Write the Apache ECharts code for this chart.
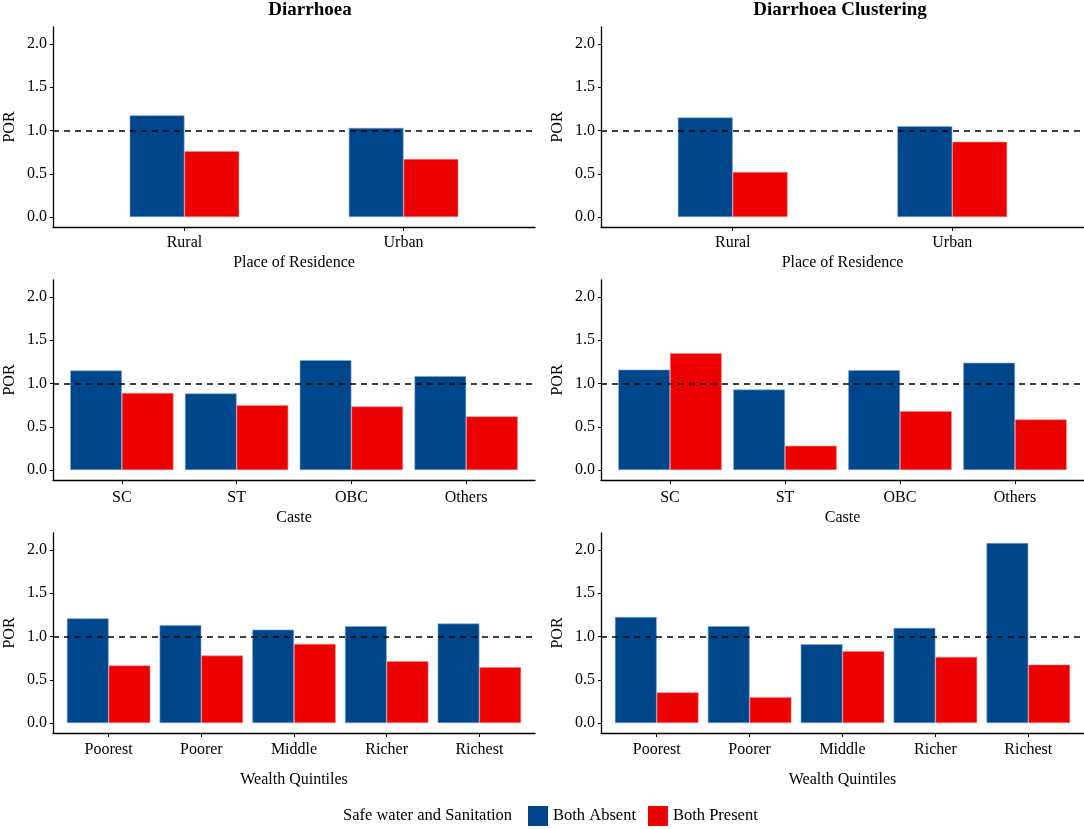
<!DOCTYPE html>
<html>
<head>
<meta charset="utf-8">
<script src="https://cdn.jsdelivr.net/npm/echarts@6/dist/echarts.min.js"></script>
<style>
html,body{margin:0;padding:0;background:#fff;}
#chart{width:1084px;height:829px;}
</style>
</head>
<body>
<div id="chart"></div>
<script>
// ---- Data ----
const residenceCats = ['Rural', 'Urban'];
const casteCats = ['SC', 'ST', 'OBC', 'Others'];
const wealthCats = ['Poorest', 'Poorer', 'Middle', 'Richer', 'Richest'];

const diarResidenceAbsent = [1.175, 1.03];
const diarResidencePresent = [0.76, 0.67];
const clusResidenceAbsent = [1.15, 1.05];
const clusResidencePresent = [0.52, 0.87];

const diarCasteAbsent = [1.15, 0.885, 1.27, 1.085];
const diarCastePresent = [0.89, 0.75, 0.735, 0.62];
const clusCasteAbsent = [1.16, 0.93, 1.155, 1.24];
const clusCastePresent = [1.35, 0.28, 0.68, 0.585];

const diarWealthAbsent = [1.21, 1.13, 1.08, 1.12, 1.15];
const diarWealthPresent = [0.665, 0.78, 0.915, 0.715, 0.645];
const clusWealthAbsent = [1.225, 1.12, 0.91, 1.10, 2.08];
const clusWealthPresent = [0.355, 0.30, 0.83, 0.765, 0.675];

const yTicks = [0, 0.5, 1.0, 1.5, 2.0];
const panelTitles = ['Diarrhoea', 'Diarrhoea Clustering'];
const axisNames = ['Place of Residence', 'Caste', 'Wealth Quintiles'];
const seriesNames = ['Both Absent', 'Both Present'];
const legendTitle = 'Safe water and Sanitation';
const refLine = 1.0;

// ---- Layout ----
const FONT = '"Liberation Serif", "DejaVu Serif", serif';
const BLUE = '#00468B', RED = '#ED0000';
const panels = [
  {cats: residenceCats, a: diarResidenceAbsent, p: diarResidencePresent, row: 0, col: 0},
  {cats: residenceCats, a: clusResidenceAbsent, p: clusResidencePresent, row: 0, col: 1},
  {cats: casteCats, a: diarCasteAbsent, p: diarCastePresent, row: 1, col: 0},
  {cats: casteCats, a: clusCasteAbsent, p: clusCastePresent, row: 1, col: 1},
  {cats: wealthCats, a: diarWealthAbsent, p: diarWealthPresent, row: 2, col: 0},
  {cats: wealthCats, a: clusWealthAbsent, p: clusWealthPresent, row: 2, col: 1}
];
const rowTops = [27, 280, 533];
const nameGaps = [28, 30, 39];
const labelMargins = [8, 10, 9];
const colLeft = [53, 601];
const colWidth = [482, 483];

const grids = [], xAxes = [], yAxes = [], series = [];
panels.forEach((pn, i) => {
  const n = pn.cats.length;
  grids.push({left: colLeft[pn.col], top: rowTops[pn.row], width: colWidth[pn.col], height: 200, containLabel: false});
  const ticks = pn.cats.map((c, k) => k + 1);
  xAxes.push({
    type: 'value', gridIndex: i, min: 0.4, max: n + 0.6,
    name: axisNames[pn.row], nameLocation: 'middle', nameGap: nameGaps[pn.row],
    nameTextStyle: {fontFamily: FONT, fontSize: 16, color: '#000'},
    axisLine: {show: true, onZero: false, lineStyle: {color: '#000', width: 1.3}},
    axisTick: {show: true, length: 4, customValues: ticks, lineStyle: {color: '#000', width: 1}},
    axisLabel: {customValues: ticks, margin: labelMargins[pn.row], fontFamily: FONT, fontSize: 16, color: '#000',
      formatter: (v) => pn.cats[Math.round(v) - 1] || ''},
    splitLine: {show: false}
  });
  yAxes.push({
    type: 'value', gridIndex: i, min: -0.115, max: 2.196,
    name: 'POR', nameLocation: 'middle', nameGap: 35,
    nameTextStyle: {fontFamily: FONT, fontSize: 16, color: '#000'},
    axisLine: {show: true, onZero: false, lineStyle: {color: '#000', width: 1.3}},
    axisTick: {show: true, length: 3, customValues: yTicks, lineStyle: {color: '#000', width: 1}},
    axisLabel: {customValues: yTicks, margin: 6, fontFamily: FONT, fontSize: 16, color: '#000',
      formatter: (v) => v.toFixed(1)},
    splitLine: {show: false}
  });
  const bw = n === 2 ? '25%' : '45%';
  series.push({
    type: 'bar', name: seriesNames[0], xAxisIndex: i, yAxisIndex: i,
    data: pn.a.map((v, k) => [k + 1, v]),
    barWidth: bw, barGap: '0%',
    itemStyle: {color: BLUE, borderColor: '#7ea6d6', borderWidth: 0.6},
    emphasis: {disabled: true}, z: 2,
    markLine: {
      silent: true, symbol: 'none', label: {show: false},
      lineStyle: {color: '#000', type: [6, 5], width: 1.6},
      data: [{yAxis: refLine}], z: 5
    }
  });
  series.push({
    type: 'bar', name: seriesNames[1], xAxisIndex: i, yAxisIndex: i,
    data: pn.p.map((v, k) => [k + 1, v]),
    barWidth: bw, barGap: '0%',
    itemStyle: {color: RED, borderColor: '#f78a8a', borderWidth: 0.6},
    emphasis: {disabled: true}, z: 2
  });
});

const chart = echarts.init(document.getElementById('chart'), null, {renderer: 'canvas'});
chart.setOption({
  backgroundColor: '#fff',
  animation: false,
  grid: grids,
  xAxis: xAxes,
  yAxis: yAxes,
  series: series,
  legend: {
    data: seriesNames, left: 528, top: 806, padding: 0, itemWidth: 20, itemHeight: 20, itemGap: 12,
    icon: 'rect', selectedMode: false,
    itemStyle: {borderWidth: 0},
    textStyle: {fontFamily: FONT, fontSize: 16.5, color: '#000'}
  },
  graphic: [
    {type: 'text', x: 310, y: 1, style: {text: panelTitles[0], textAlign: 'center', font: 'bold 19px ' + FONT, fill: '#000'}},
    {type: 'text', x: 840, y: 1, style: {text: panelTitles[1], textAlign: 'center', font: 'bold 19px ' + FONT, fill: '#000'}},
    {type: 'text', x: 343, y: 807, style: {text: legendTitle, font: '16.5px ' + FONT, fill: '#000'}}
  ]
});
</script>
</body>
</html>
